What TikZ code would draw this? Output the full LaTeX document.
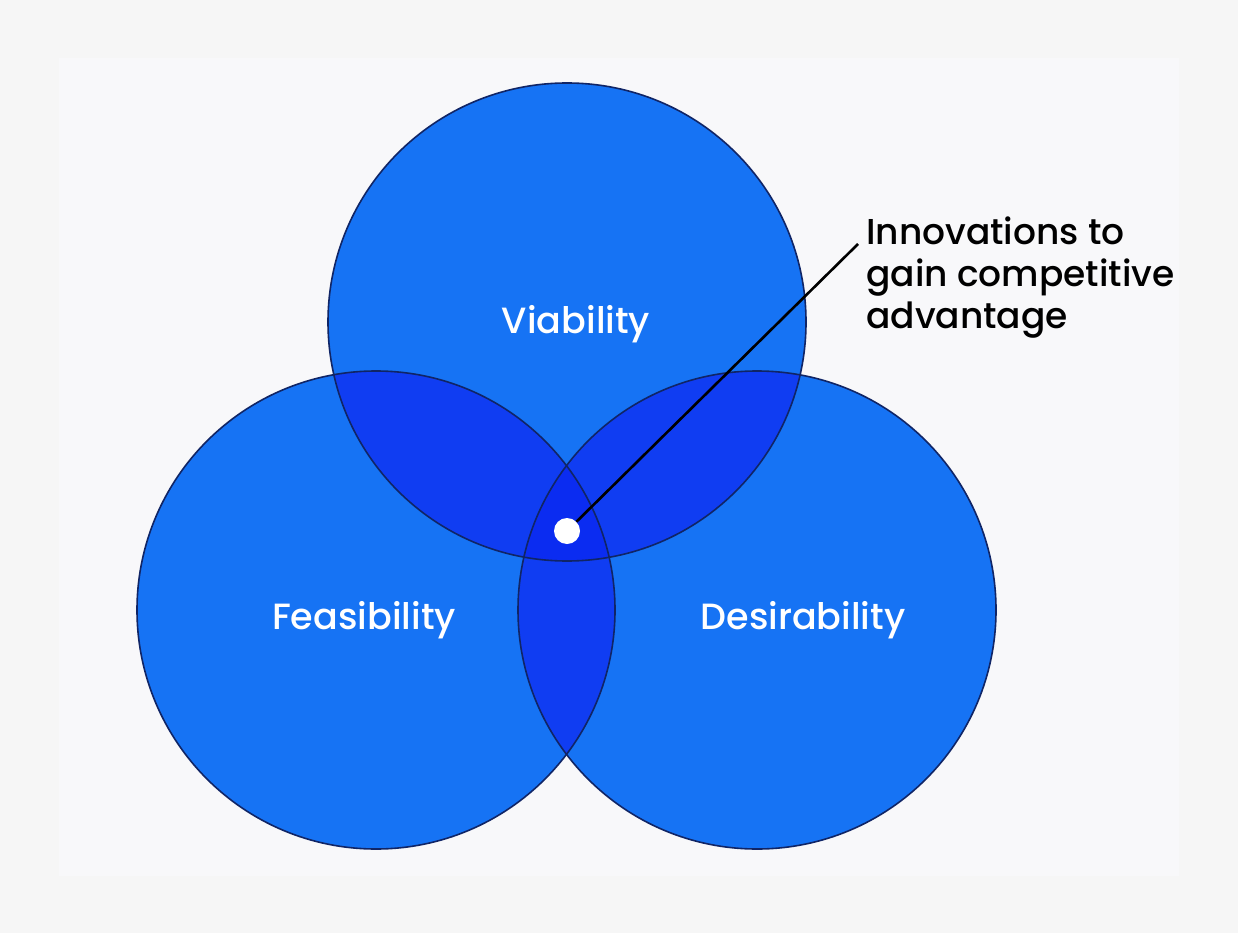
\documentclass[tikz,border=0pt]{standalone}
\usepackage{fontspec}
\setmainfont{Poppins Medium}
\definecolor{bgout}{HTML}{F6F6F6}
\definecolor{bgin}{HTML}{F8F8FA}
\definecolor{cfill}{HTML}{1673F4}
\definecolor{cpair}{HTML}{103DF2}
\definecolor{ctriple}{HTML}{0B2CF1}
\definecolor{cedge}{HTML}{102566}
\begin{document}
\begin{tikzpicture}[x=1pt,y=-1pt,
  circlabel/.style={text=white,font=\fontsize{36.5}{40}\selectfont,inner sep=0pt,anchor=base},
  edge/.style={draw=cedge,line width=1.6pt}]
\useasboundingbox (0,0) rectangle (1238,933);
\fill[bgout] (0,0) rectangle (1238,933);
\fill[bgin] (59,58) rectangle (1179,876);
% circles
\def\R{239}
\coordinate (cv) at (567,322);
\coordinate (cf) at (376,610);
\coordinate (cd) at (757,610);
\fill[cfill] (cv) circle (\R);
\fill[cfill] (cf) circle (\R);
\fill[cfill] (cd) circle (\R);
\begin{scope}
  \clip (cv) circle (\R);
  \fill[cpair] (cf) circle (\R);
  \fill[cpair] (cd) circle (\R);
\end{scope}
\begin{scope}
  \clip (cf) circle (\R);
  \fill[cpair] (cd) circle (\R);
\end{scope}
\begin{scope}
  \clip (cv) circle (\R);
  \clip (cf) circle (\R);
  \fill[ctriple] (cd) circle (\R);
\end{scope}
\draw[edge] (cv) circle (\R);
\draw[edge] (cf) circle (\R);
\draw[edge] (cd) circle (\R);
% labels
\node[circlabel] (viab) at (576,333) {Viability};
\node[circlabel] (feas) at (364,629) {Feasibility};
\node[circlabel] (desi) at (803,629) {Desirability};
% dot and callout
\node[circle,fill=white,minimum size=26pt,inner sep=0pt] (dot) at (567,531) {};
\node[anchor=north west,align=left,inner sep=0pt,
  font=\fontsize{36}{42}\selectfont] (note) at (866,217)
  {Innovations to\\gain competitive\\advantage};
\coordinate (notept) at (858,244);
\draw[black,line width=2.6pt] (dot) -- (notept);
\end{tikzpicture}
\end{document}
